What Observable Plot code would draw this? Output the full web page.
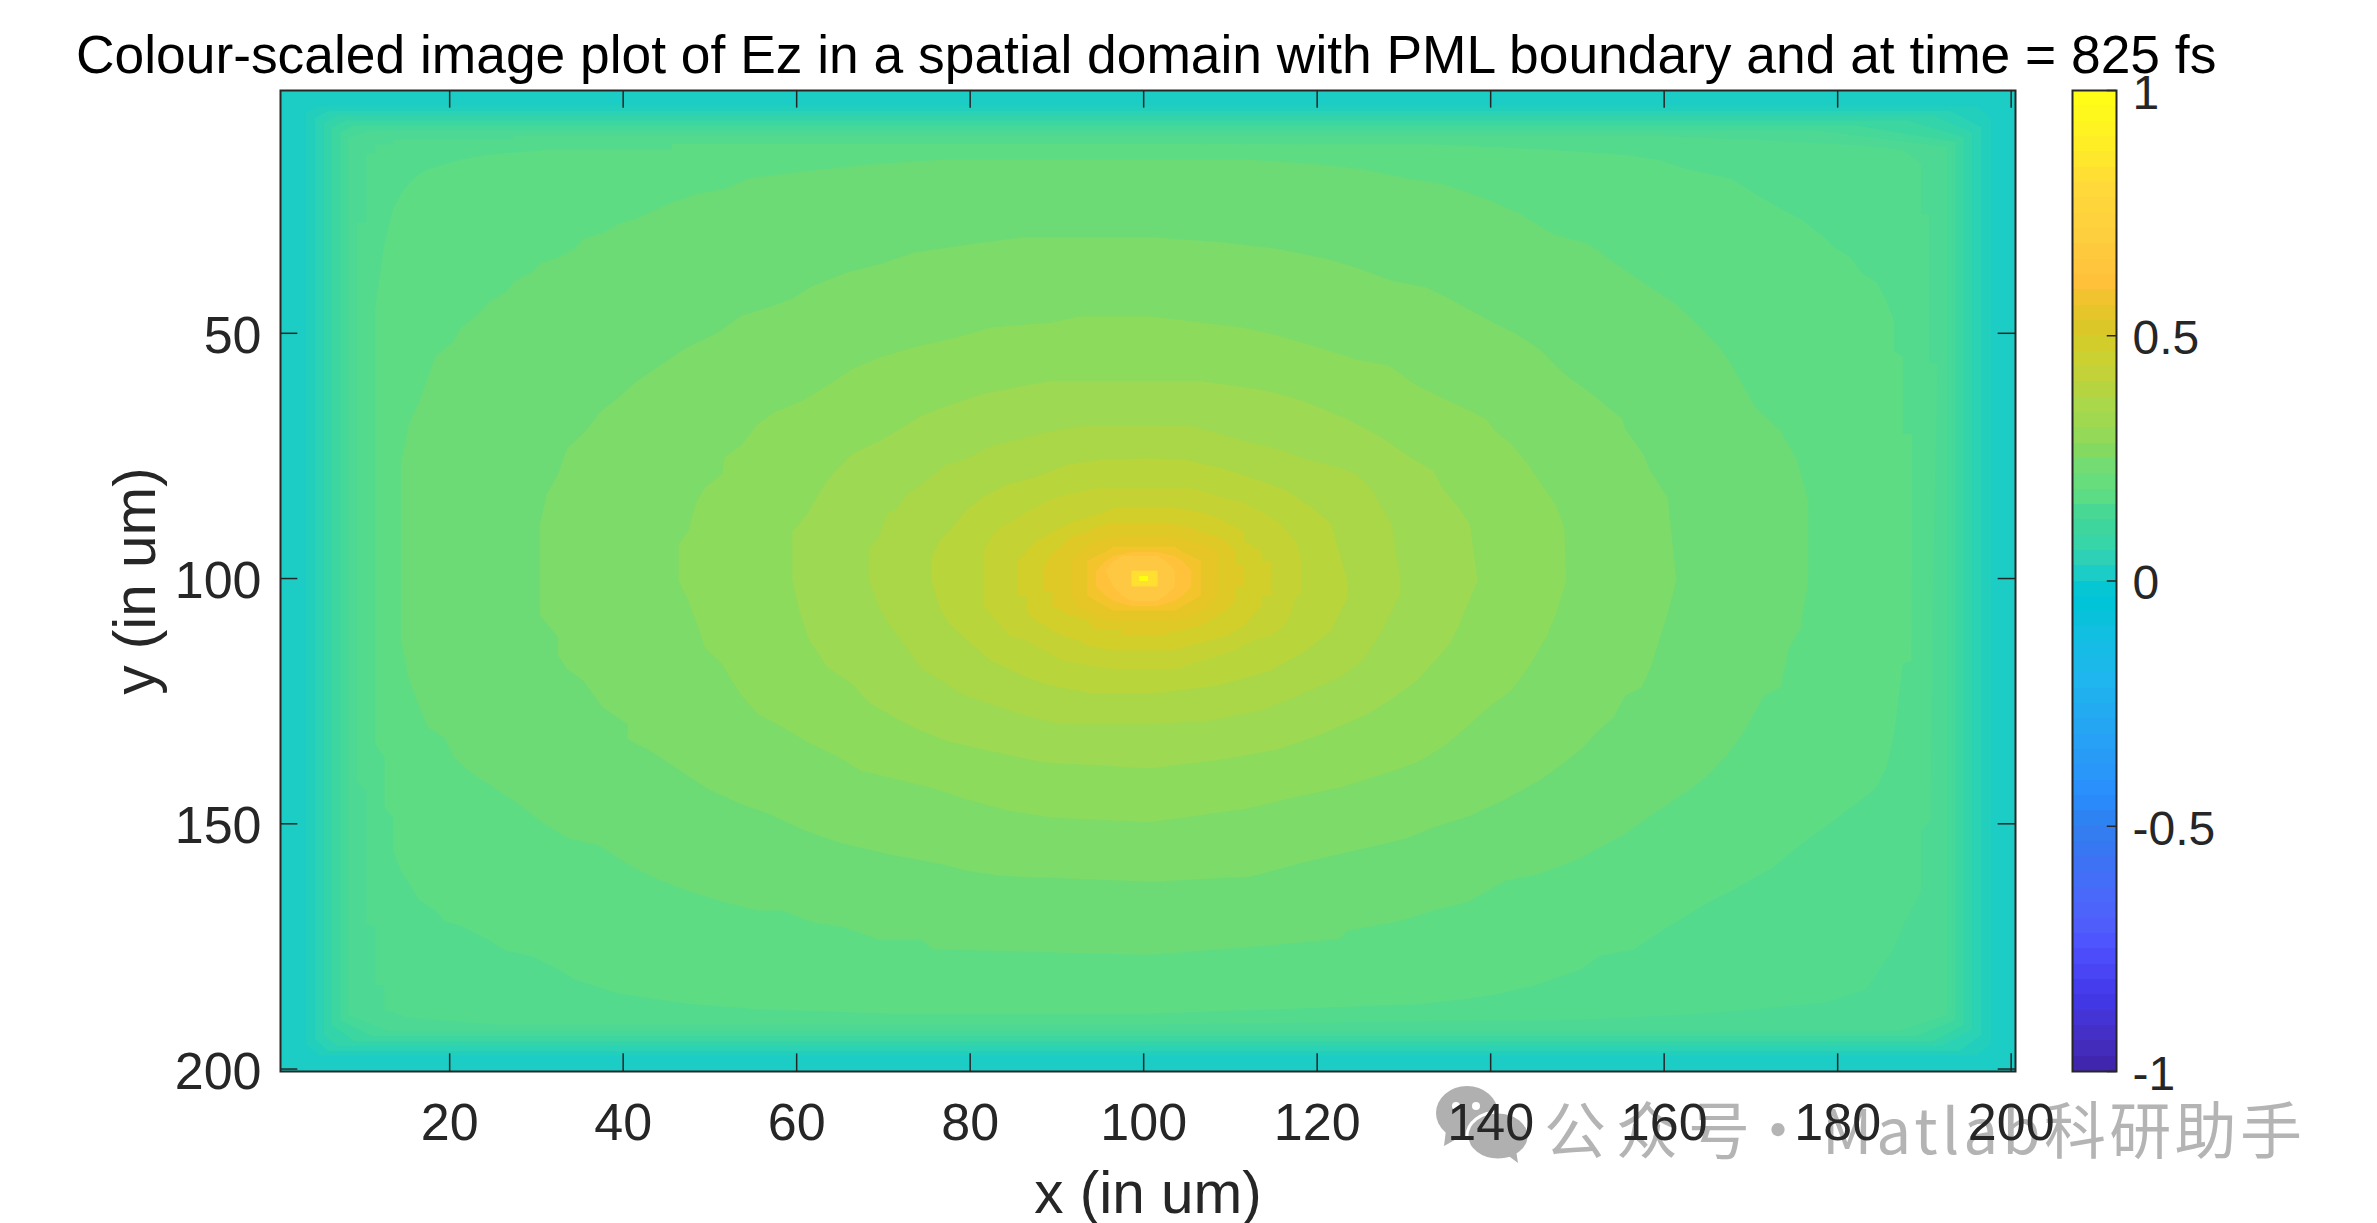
<!DOCTYPE html>
<html><head><meta charset="utf-8">
<script src="https://cdn.jsdelivr.net/npm/d3@7"></script>
<script src="https://cdn.jsdelivr.net/npm/@observablehq/plot@0.6"></script>
<style>
html,body{margin:0;padding:0;background:#fff;width:2377px;height:1223px;overflow:hidden}
#chart{position:relative;width:2377px;height:1223px;font-family:"Liberation Sans",Arial,sans-serif}
#title{position:absolute;left:76px;top:26px;font-size:53.35px;line-height:58px;color:#000;white-space:nowrap;z-index:5}
.wm{position:absolute;top:1090px;font-family:"Noto Sans CJK SC";font-size:62px;line-height:74px;color:#b4b4b4;white-space:nowrap}
#wmicon{position:absolute;left:1430px;top:1084px}
</style></head><body><div id="chart">
<svg id="wmicon" width="105" height="80" viewBox="0 0 105 80">
<ellipse cx="37" cy="29" rx="31" ry="27" fill="#b0b0b0"/><path d="M16 46 L14 62 L32 52Z" fill="#b0b0b0"/>
<ellipse cx="68" cy="52" rx="31" ry="24" fill="#b0b0b0" stroke="#fff" stroke-width="3"/><path d="M76 70 L88 79 L86 66Z" fill="#b0b0b0"/>
<circle cx="26" cy="22" r="4" fill="#fff"/><circle cx="46" cy="22" r="4" fill="#fff"/>
</svg>
<div class="wm" style="left:1544px;letter-spacing:10px">公众号</div>
<div class="wm" style="left:1747px">·</div>
<div class="wm" style="left:1822px;letter-spacing:4px">Matlab</div>
<div class="wm" style="left:2044px;letter-spacing:3.3px">科研助手</div>
<div id="title">Colour-scaled image plot of Ez in a spatial domain with PML boundary and at time = 825 fs</div>
</div>
<script>
// Tick values
const xTicks = [20,40,60,80,100,120,140,160,180,200];
const yTicks = [50,100,150,200];
const cbTicks = [-1,-0.5,0,0.5,1];

// Colour bar anchors
const cbStops  = [-1,-0.92,-0.85,-0.75,-0.7,-0.65,-0.55,-0.5,-0.45,-0.4,-0.3,-0.2,-0.1,-0.04,0,0.02,0.04,0.08,0.13,0.18,0.23,0.27,0.31,0.36,0.41,0.47,0.52,0.57,0.61,0.65,0.72,0.8,0.9,1];
const cbColors = ["#3f24a8","#4530c8","#4238e8","#4f50ff","#4f5ffb","#4a68fa","#3876f2","#3080f0","#2a8bfb","#2a94fb","#24a6f2","#1fb5ee","#0fc0df","#00c4d8","#0cc8cf","#1fcdc5","#2ccfb9","#38d5a6","#42d797","#60dd82","#70dd75","#87da5f","#9bd853","#a9d84a","#bfd23a","#cfd02e","#dcc727","#ecc32c","#ffc13a","#ffc63c","#fdd03d","#ffd93a","#fff024","#ffff14"];

// Field bands: value and colour of each nested region, outer to inner
const bandValues = [0.02,0.03,0.05,0.06,0.08,0.1,0.115,0.14,0.17,0.21,0.25,0.28,0.31,0.345,0.375,0.41,0.44,0.5,0.53,0.57,0.61,0.65,0.72,0.85];
const bandColors = ["#1bcdc4","#22cfbd","#2bd2b3","#33d4a9","#3cd6a0","#45d898","#4dd993","#54da8d","#5edc83","#6cdb76","#7cdb69","#8cdb5d","#9dd952","#aad747","#b8d53c","#c5d233","#d2cf2a","#dfc927","#e6c626","#f3c42c","#ffc23a","#ffc842","#ffe030","#ffff10"];

// Contours of each band in data units [x, y]
const band00 = [[0.5,0.5],[200.5,0.5],[200.5,200.5],[0.5,200.5]];
const band01 = [[3.4,5],[5,3.6],[196,3.6],[197.7,6],[197.7,195],[196,197.3],[5,197.3],[3.4,195]];
const band02 = [[4.5,6],[6,4.7],[193,4.7],[196.6,8],[196.6,193],[194,196.3],[6,196.3],[4.5,194]];
const band03 = [[5.5,7],[7,5.6],[191,5.6],[195.5,9],[195.5,192],[192,195.3],[7,195.3],[5.5,193]];
const band04 = [[6.4,8],[8,6.6],[188,6.6],[194.5,10],[194.5,191],[191,194.3],[9,194.3],[6.4,191]];
const band05 = [[7.4,9],[9,7.6],[182,7.6],[193.6,11],[193.6,190],[189,193.3],[11,193.3],[7.4,190]];
const band06 = [[8.3,10],[11,8.7],[178,8.7],[192.6,12],[192.6,189],[187,192.2],[13,192.2],[8.3,189]];
const band07 = [[100.8,9.7],[27.4,9.7],[27.4,10.6],[13.5,10.6],[13.5,11.5],[11.4,11.5],[11.4,13.4],[10.4,13.4],[10.4,27.4],[9.3,27.4],[9.3,141.2],[10.4,143.3],[10.4,170.5],[11.4,170.8],[11.4,182.7],[12.5,183],[12.5,187.8],[15.2,189.5],[25.5,190.9],[100.8,190.9],[150.7,189.9],[163.5,188.8],[170.5,187.8],[178.5,186.5],[183.3,183.7],[186.5,175.2],[187.5,170.8],[189.6,163.7],[189.6,151.4],[190.7,149.4],[191,100],[191.5,56.3],[190.5,56],[190.5,25.7],[189.6,25.7],[189.6,15.5],[187.5,12.7],[182.7,11.7],[170.5,10.6],[158.4,9.7]];
const band08 = [[100.8,11.4],[45.6,11.4],[45.6,12.6],[31.5,12.6],[24.5,13.6],[21.3,14.6],[19.4,15.6],[17.5,16.6],[16.5,17.5],[15.3,19.5],[14.4,21.6],[13.5,24.6],[12.5,31.5],[11.4,45.4],[11.4,133.7],[12.5,136.5],[12.5,146.7],[13.5,148.7],[13.5,155.5],[14.4,159.6],[15.5,162.6],[16.5,165.6],[18.4,167.7],[19.4,169.8],[21.3,170.8],[24.5,173.7],[26.4,175.8],[29.3,176.9],[32.5,179.6],[34.4,181.7],[39.5,184.6],[43.4,185.6],[47.5,186.7],[55.5,187.8],[70.6,188.7],[100.8,188.7],[131.5,186.8],[137.6,185.6],[140.5,184.8],[144.9,183],[150.4,179.7],[152.6,176.9],[156.5,175.6],[160.3,171.1],[162.5,168.8],[165.4,165.7],[167.7,163.7],[170.5,160.9],[172.5,158.9],[175.3,154.8],[178.5,150.7],[181.5,146.7],[184.3,142.9],[185.6,138.5],[186.5,131.7],[187.5,117.4],[188.5,116.7],[188.6,70.6],[187.5,70.6],[187.5,54.9],[186.5,53.6],[186.5,47.4],[185.6,43.4],[184.5,39.6],[182.7,37.6],[181.5,34.5],[179.6,32.5],[178.5,30.4],[175.7,26.7],[173.4,24.6],[170.5,21.6],[167.7,18.5],[162.5,16.5],[159.3,14.6],[155.2,13.6],[146.5,12.6],[133.4,11.5]];
const band09 = [[100.8,14.6],[76.6,14.6],[68.3,15.6],[58.4,17.5],[54.4,18.5],[51.7,20.6],[48.5,21.6],[45.3,23.6],[41.4,26.7],[39.5,27.7],[37.6,29.6],[35.4,30.8],[34.4,32.8],[32.5,34.5],[30.6,35.7],[29.4,37.6],[27.5,39.4],[26.4,41.7],[24.5,43.7],[23.4,46],[21.3,48.9],[20.3,51.9],[18.4,54.6],[17.5,59],[16.5,63.8],[15.3,68.5],[14.4,76.6],[14.4,112.6],[15.3,120.5],[16.4,125.6],[17.5,130.3],[19.4,132.4],[20.5,136.5],[22.4,139.5],[24.5,141.9],[27.4,145.3],[30.4,149.4],[33.4,152.8],[37.3,154.5],[40.5,158.2],[43.4,160.9],[47.5,163.7],[51.7,166],[55.5,167.7],[58.4,167.7],[61.9,170.1],[65.4,171.1],[69.6,173.7],[74.4,173.7],[75.7,175.6],[100.8,176.7],[113.6,174.9],[122.5,173.5],[123.5,171.8],[129.6,169.8],[133.4,167.7],[137.3,166],[141.7,161.6],[145.6,160.3],[150.1,157.2],[155.2,152.4],[158.7,148],[162.2,143.9],[164.8,140.5],[167.3,135.8],[169.3,131],[171.5,123.9],[173.4,122.2],[174.4,114],[175.7,110.3],[176.6,100.5],[176.6,84.2],[175.3,75.7],[173.4,69.9],[170.5,65.1],[167.7,56.3],[166.4,52.9],[163.8,48.1],[161.3,44],[158.4,40.6],[154.5,35.9],[151.3,31.8],[147.2,29.8],[143.4,25.7],[139.5,22.6],[134.4,19.5],[130.5,18.5],[125.4,16.6],[120.3,15.6],[112.3,14.6]];
const band10 = [[100.8,30.4],[86.2,30.4],[80.5,31.7],[73.4,33.6],[69.6,35.9],[65.8,37.6],[61.9,40.3],[59.4,43],[56.8,44.7],[53.6,46.4],[51,49.8],[47.8,52.5],[46.2,54.2],[43.4,57.6],[41.4,60],[39.5,63.1],[37.3,66.1],[35.7,69.9],[33.5,73.6],[32.5,78.7],[31.2,82.8],[30.4,88.9],[30.4,107.5],[32.5,112],[32.5,115.7],[33.5,118.4],[35.4,120.8],[37.6,126.2],[40.5,129.7],[40.5,132.7],[43.4,135.4],[46.6,139.2],[49.8,142.9],[53.6,146],[56.8,148],[61,151.4],[64.8,153.8],[70.6,156.2],[76.6,158.2],[79.8,159.6],[83.4,160.6],[100.8,161.8],[112.3,160.8],[118.4,157.9],[123.5,155.8],[127.7,154.1],[130.6,152.8],[133.4,150.7],[137.6,148.4],[141.7,145],[145.6,141.2],[148.5,137.5],[150.7,134.4],[152,131.7],[154.2,128.3],[155.5,123.9],[157.4,122.2],[158.4,118.4],[159.3,113.3],[160.4,107.2],[161.4,100.4],[160.4,83.5],[158.4,78],[157.6,74.6],[155.5,69.5],[155.2,67.5],[151.7,62.4],[148.5,58.3],[145.6,53.2],[143,50.2],[139.2,46.8],[135.3,43],[132.5,40.6],[128.6,39.3],[124.5,36.6],[121.3,34.9],[115.5,32.8],[109.4,31.5]];
const band11 = [[100.8,46.6],[92.6,46.6],[89.4,47.8],[82.4,48.8],[78.6,50.8],[73.4,52.9],[69.6,54.9],[66.4,57.3],[63.5,60.7],[60.6,63.8],[57.4,66.1],[55.5,68.5],[53.6,72.9],[51.7,75.3],[51.4,78.7],[49.4,81.5],[48.5,84.2],[47.5,90.3],[46.4,93],[46.4,100.4],[47.5,104.5],[48.5,109.2],[49.4,114],[51.4,117.4],[52.3,120.1],[53.5,123.5],[55.5,127.6],[58.4,130.3],[61.3,133.4],[64.5,136.1],[67.4,139.2],[71.5,140.9],[75.4,142.6],[79.5,145],[84.3,147.3],[89.4,148.7],[100.8,149.7],[107.5,148],[111.7,147],[117.4,144.6],[122.6,142.6],[128.3,139.5],[131.5,137.5],[134.7,134.1],[137.6,129.7],[139.5,126.6],[142.4,122.8],[144.6,117.4],[146.5,111.6],[147.5,107.5],[148.7,100.4],[148.5,89.6],[147.5,84.9],[145.6,80.1],[144.3,76.7],[142.4,72.6],[140.5,69.9],[139.5,67.5],[137.6,65.8],[134.7,63.4],[131.5,60.7],[128.3,56.6],[124.5,55.3],[119.4,52.5],[115.5,50.5],[111.4,48.8],[106.6,47.8]];
const band12 = [[100.8,59.7],[89.4,59.7],[86.2,60.7],[81.4,62.4],[77.3,64.8],[74.4,66.8],[72.5,68.9],[69.6,71.9],[68.3,73],[66.4,74.6],[64.5,78],[63.5,80.1],[62.2,83.8],[61.3,86.6],[60.3,88.9],[59.5,90.3],[59.5,100.4],[60.3,106.5],[61.3,112],[63.5,118.1],[66.4,121.5],[68.3,125.2],[70.6,127.6],[73.4,130.3],[77.3,133.1],[81.4,134.8],[88.5,137.5],[100.8,138.7],[109.4,136.8],[115.5,134.8],[120.6,131.7],[125.8,127.6],[128.3,124.9],[131.5,120.8],[133.4,117.1],[135.3,113.3],[136.3,109.6],[138.5,100.4],[137.6,88.9],[136.3,85.5],[134.4,81.5],[133.4,78],[130.5,75],[127.4,71.2],[123.5,67.5],[118.4,63.8],[114.2,61.7],[106.6,59.7]];
const band13 = [[100.8,68.7],[93.9,68.7],[89.4,69.9],[85.6,71.6],[82.4,73],[79.5,75.7],[77.3,76.7],[74.7,80.4],[72.5,83.2],[71.5,85.9],[70.6,86.6],[69.3,92],[68.3,94],[68.3,100.4],[69.5,105.8],[70.6,109.2],[72.5,113.7],[74.4,118.4],[77.3,121.5],[79.5,123.9],[82.4,125.6],[85.6,127.6],[90.4,129.7],[100.8,129.7],[107.5,129],[113.6,126.9],[117.8,123.9],[122.6,120.1],[125.4,116.4],[127.4,110.9],[129.6,103.1],[129.6,100.5],[128.6,88.9],[127.4,85.5],[126.4,82.1],[124.5,78.7],[122.6,77.4],[118.7,75.7],[115.5,73.6],[111.4,71.9],[105.6,68.9]];
const band14 = [[100.8,75.5],[95.5,75.7],[91.4,76.7],[87.5,79.4],[84.3,80.8],[81.4,83.5],[79.5,86.2],[77.6,90.3],[76.6,92],[75.5,95.7],[75.5,100.4],[76.6,106.5],[77.6,109.2],[79.5,112.3],[82.4,116.7],[85.6,119.4],[88.5,121.5],[94.2,123.5],[100.8,123.5],[108.5,121.8],[114.6,118.8],[118.7,114.7],[121.6,110.6],[123.5,103.8],[123.5,100.5],[122.6,95],[121.6,88.9],[119.4,85.5],[116.5,82.1],[113.3,80],[109.4,77.7],[104.6,75.7]];
const band15 = [[81.5,94.6],[82.5,91.5],[83.5,89.5],[84.5,88.6],[85.5,87.6],[86.5,86.5],[87.5,85.6],[88.6,84.6],[89.5,83.7],[91.6,82.7],[94.5,81.6],[105.5,81.6],[107.6,82.7],[109.5,83.7],[111.6,84.6],[112.6,85.6],[113.6,86.5],[114.7,87.6],[115.6,88.6],[116.6,90.5],[117.6,92.5],[118.2,96.4],[118.2,103.2],[117.6,103.5],[116.6,108.5],[115.6,110.5],[114.7,111.6],[112.6,112.6],[110.5,114.6],[108.5,115.8],[106.7,116.7],[103.6,118.5],[96.5,118.5],[92.6,117.3],[90.6,116.7],[88.6,114.6],[87.5,113.6],[86.5,112.6],[84.5,111.6],[83.5,109.5],[82.5,107.5],[81.5,105.4]];
const band16 = [[85.5,96.4],[86.5,94.6],[87.5,92.5],[88.6,91.5],[89.5,90.5],[90.6,89.5],[91.6,88.6],[93.5,87.6],[95.6,86.5],[96.5,85.6],[103.6,85.6],[106.6,86.5],[108.5,87.6],[109.5,88.6],[110.6,89.5],[111.6,90.5],[111.6,92.5],[112.6,93.5],[113.6,94.6],[113.6,96.4],[114.7,96.4],[114.7,103.5],[113.6,103.5],[113.6,105.6],[112.6,107.5],[111.6,109.5],[110.6,110.5],[109.5,111.6],[107.6,112.6],[105.5,113.6],[103.6,114.6],[96.5,114.6],[93.5,113.6],[92.5,112.6],[90.6,111.6],[89.5,110.5],[88.6,109.5],[87.5,108.5],[86.5,106.5],[86.5,103.5],[85.5,103.5]];
const band17 = [[88.5,97.4],[89.5,94.6],[90.6,93.5],[91.6,91.5],[93.5,90.5],[94.5,89.5],[96.5,88.6],[102.5,88.6],[105.5,89.5],[106.6,90.5],[108.5,91.5],[109.5,92.5],[110.6,94.6],[110.6,97.4],[111.6,97.4],[111.6,101.6],[110.6,101.6],[110.6,104.5],[109.5,106.5],[108.5,107.5],[106.6,109.5],[104.6,110.5],[101.6,111.6],[97.5,111.6],[97.5,110.5],[94.5,110.5],[93.5,108.5],[91.6,107.5],[90.6,106.5],[89.5,105.6],[89.5,102.7],[88.5,102.7]];
const band18 = [[91.6,96.5],[92.5,94.6],[93.5,93.5],[94.5,92.5],[96.5,91.5],[103.6,91.5],[105.5,92.5],[107.6,93.5],[108.5,94.6],[108.5,103.5],[107.6,105.6],[106.6,106.5],[105.5,107.5],[103.6,108.5],[96.5,108.5],[94.5,107.5],[92.5,105.6],[91.6,103.5]];
const band19 = [[93.5,96.4],[94.5,95.4],[95.6,94.6],[96.5,93.5],[103.6,93.5],[104.5,94.6],[105.5,95.4],[106.6,96.4],[106.6,103.5],[105.5,104.6],[104.5,105.6],[103.6,106.5],[96.5,106.5],[95.6,105.6],[94.5,104.6],[93.5,103.5]];
const band20 = [[94.5,98.4],[95.6,96.4],[96.5,95.4],[98.6,94.6],[101.6,94.6],[103.6,95.4],[104.5,96.4],[105.5,98.4],[105.5,101.6],[104.5,103.5],[103.6,104.6],[101.6,105.6],[98.6,105.6],[96.5,104.6],[95.6,103.5],[94.5,101.6]];
const band21 = [[95.6,98.4],[96.5,96.4],[97.5,95.4],[101.6,95.4],[102.5,96.4],[103.6,98.4],[103.6,101.6],[102.5,103.5],[101.6,104.6],[98.6,104.6],[97.5,103.5],[96.5,101.6]];
const band22 = [[98.6,98.4],[101.6,98.4],[101.6,101.6],[98.6,101.6]];
const band23 = [[99.5,99.5],[100.5,99.5],[100.5,100.5],[99.5,100.5]];

const bands = [band00,band01,band02,band03,band04,band05,band06,band07,band08,band09,band10,band11,band12,band13,band14,band15,band16,band17,band18,band19,band20,band21,band22,band23];
const vertices = bands.flatMap((pts,i)=>pts.map(([x,y])=>({x,y,value:bandValues[i]})));
const fontFamily = '"Liberation Sans",Arial,sans-serif';
const ink = "#262626";
const layer = {position:"absolute",left:0,top:0,background:"transparent",fontFamily};

const main = Plot.plot({
  width:2377,height:1223,marginLeft:280,marginRight:362,marginTop:90,marginBottom:152,
  style:layer,
  x:{domain:[0.5,200.5]},
  y:{domain:[200.5,0.5]},
  color:{type:"ordinal",domain:bandValues,range:bandColors},
  marks:[
    Plot.line(vertices,{x:"x",y:"y",z:"value",fill:"value",stroke:"none"}),
    Plot.ruleX(xTicks,{x:d=>d,y1:0.5,y2:4.1,stroke:ink,strokeWidth:1.5}),
    Plot.ruleX(xTicks,{x:d=>d,y1:200.5,y2:196.9,stroke:ink,strokeWidth:1.5}),
    Plot.ruleY(yTicks,{y:d=>d,x1:0.5,x2:2.5,stroke:ink,strokeWidth:1.5}),
    Plot.ruleY(yTicks,{y:d=>d,x1:200.5,x2:198.5,stroke:ink,strokeWidth:1.5}),
    Plot.frame({stroke:ink,strokeWidth:2}),
    Plot.axisX({ticks:xTicks,anchor:"bottom",tickSize:0,tickPadding:32,fontSize:52,label:null,color:ink}),
    Plot.axisY({ticks:yTicks,anchor:"left",tickSize:0,tickPadding:19,fontSize:52,label:null,color:ink,dy:3}),
    Plot.text(["x (in um)"],{frameAnchor:"bottom",dy:141,fontSize:58.5,fill:ink}),
    Plot.text(["y (in um)"],{frameAnchor:"left",textAnchor:"middle",dx:-144,rotate:-90,fontSize:58.5,fill:ink})
  ]
});

const cbLevels = d3.range(64).map(i=>-1+(i+0.5)/32);
const colorbar = Plot.plot({
  width:2377,height:1223,marginLeft:2072,marginRight:261,marginTop:90,marginBottom:152,
  style:layer,
  x:{domain:[0,1],axis:null},
  y:{domain:[-1,1],axis:null},
  color:{type:"linear",domain:cbStops,range:cbColors,interpolate:"rgb"},
  marks:[
    Plot.rect(cbLevels,{x1:0,x2:1,y1:d=>d-1/64,y2:d=>d+1/64,fill:d=>d,shapeRendering:"crispEdges"}),
    Plot.ruleY(cbTicks,{y:d=>d,x1:0.79,x2:1,stroke:ink,strokeWidth:1.5}),
    Plot.frame({stroke:ink,strokeWidth:2}),
    Plot.axisY({ticks:cbTicks,anchor:"right",tickSize:0,tickPadding:16,fontSize:48,label:null,color:ink,tickFormat:d=>String(d),textAnchor:"start",dy:3})
  ]
});
const chart=document.getElementById("chart");
chart.insertBefore(colorbar,document.getElementById("title"));
chart.insertBefore(main,colorbar);
</script></body></html>
